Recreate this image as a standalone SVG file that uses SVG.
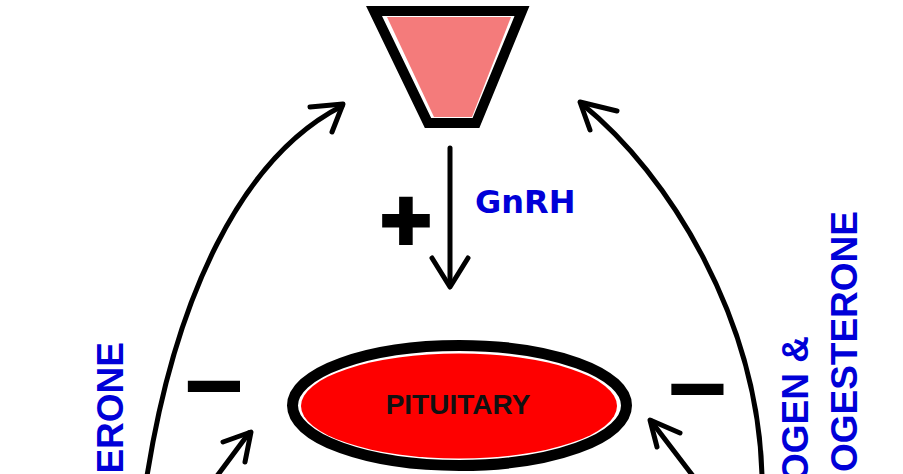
<svg xmlns="http://www.w3.org/2000/svg" width="903" height="474" viewBox="0 0 903 474">
<style>
.conn{fill:none;stroke:#000;stroke-width:5;stroke-linecap:round;stroke-linejoin:round}
.head{fill:none;stroke:#000;stroke-width:5;stroke-linecap:round;stroke-linejoin:round}
.blue{font-family:"Liberation Sans",Arial,sans-serif;font-weight:bold;fill:#0000d8}
.sign{font-family:"Liberation Sans",Arial,sans-serif;font-weight:bold;fill:#000}
</style>
<rect width="903" height="474" fill="#fff"/>
<g id="hypothalamus">
<polygon points="374,11 522,11 476,123 428,123" fill="#fff" stroke="#000" stroke-width="10" stroke-linejoin="miter"/>
<polygon points="387,17 511,17 472,117 434,117" fill="#f47b7b"/>
</g>
<g id="pituitary">
<ellipse cx="459.5" cy="405.5" rx="167" ry="60" fill="#fff" stroke="#000" stroke-width="11"/>
<ellipse cx="459" cy="406" rx="158" ry="52.5" fill="#fe0000"/>
<text x="458" y="414" text-anchor="middle" font-family="Liberation Sans, Arial, sans-serif" font-weight="bold" font-size="28" fill="#111">PITUITARY</text>
</g>
<g id="connectors">
<line class="conn" x1="450" y1="148" x2="450" y2="285" stroke-width="4"/>
<polyline class="head" points="432,258 450,287 468,258" stroke-width="4"/>
<path class="conn" d="M147,476 C175,300 240,158 342,106"/>
<polyline class="head" points="310,107 343,104 332,132"/>
<path class="conn" d="M762,476 C758,320 670,175 582,104"/>
<polyline class="head" points="617,111 580,102 590,130"/>
<line class="conn" x1="217" y1="476" x2="249" y2="433"/>
<polyline class="head" points="223,442 251,432 245,462"/>
<line class="conn" x1="693" y1="476" x2="651" y2="421"/>
<polyline class="head" points="680,433 650,420 657,447"/>
</g>
<g id="labels">
<text x="475" y="213" font-family="DejaVu Sans, Verdana, sans-serif" font-weight="bold" font-size="32" fill="#0000d8">GnRH</text>
<text class="sign" x="406" y="250" font-size="87" text-anchor="middle" stroke="#000" stroke-width="4">+</text>
<text class="sign" x="214" y="421" font-size="104" text-anchor="middle">−</text>
<text class="sign" x="697.5" y="424" font-size="104" text-anchor="middle">−</text>
<text class="blue" font-size="37" text-anchor="end" transform="translate(123,342) rotate(-90)">ERONE</text>
<text class="blue" font-size="37" text-anchor="end" transform="translate(808,336) rotate(-90)">OGEN &amp;</text>
<text class="blue" font-size="37" text-anchor="end" transform="translate(857,211) rotate(-90)">OGESTERONE</text>
</g>
</svg>
